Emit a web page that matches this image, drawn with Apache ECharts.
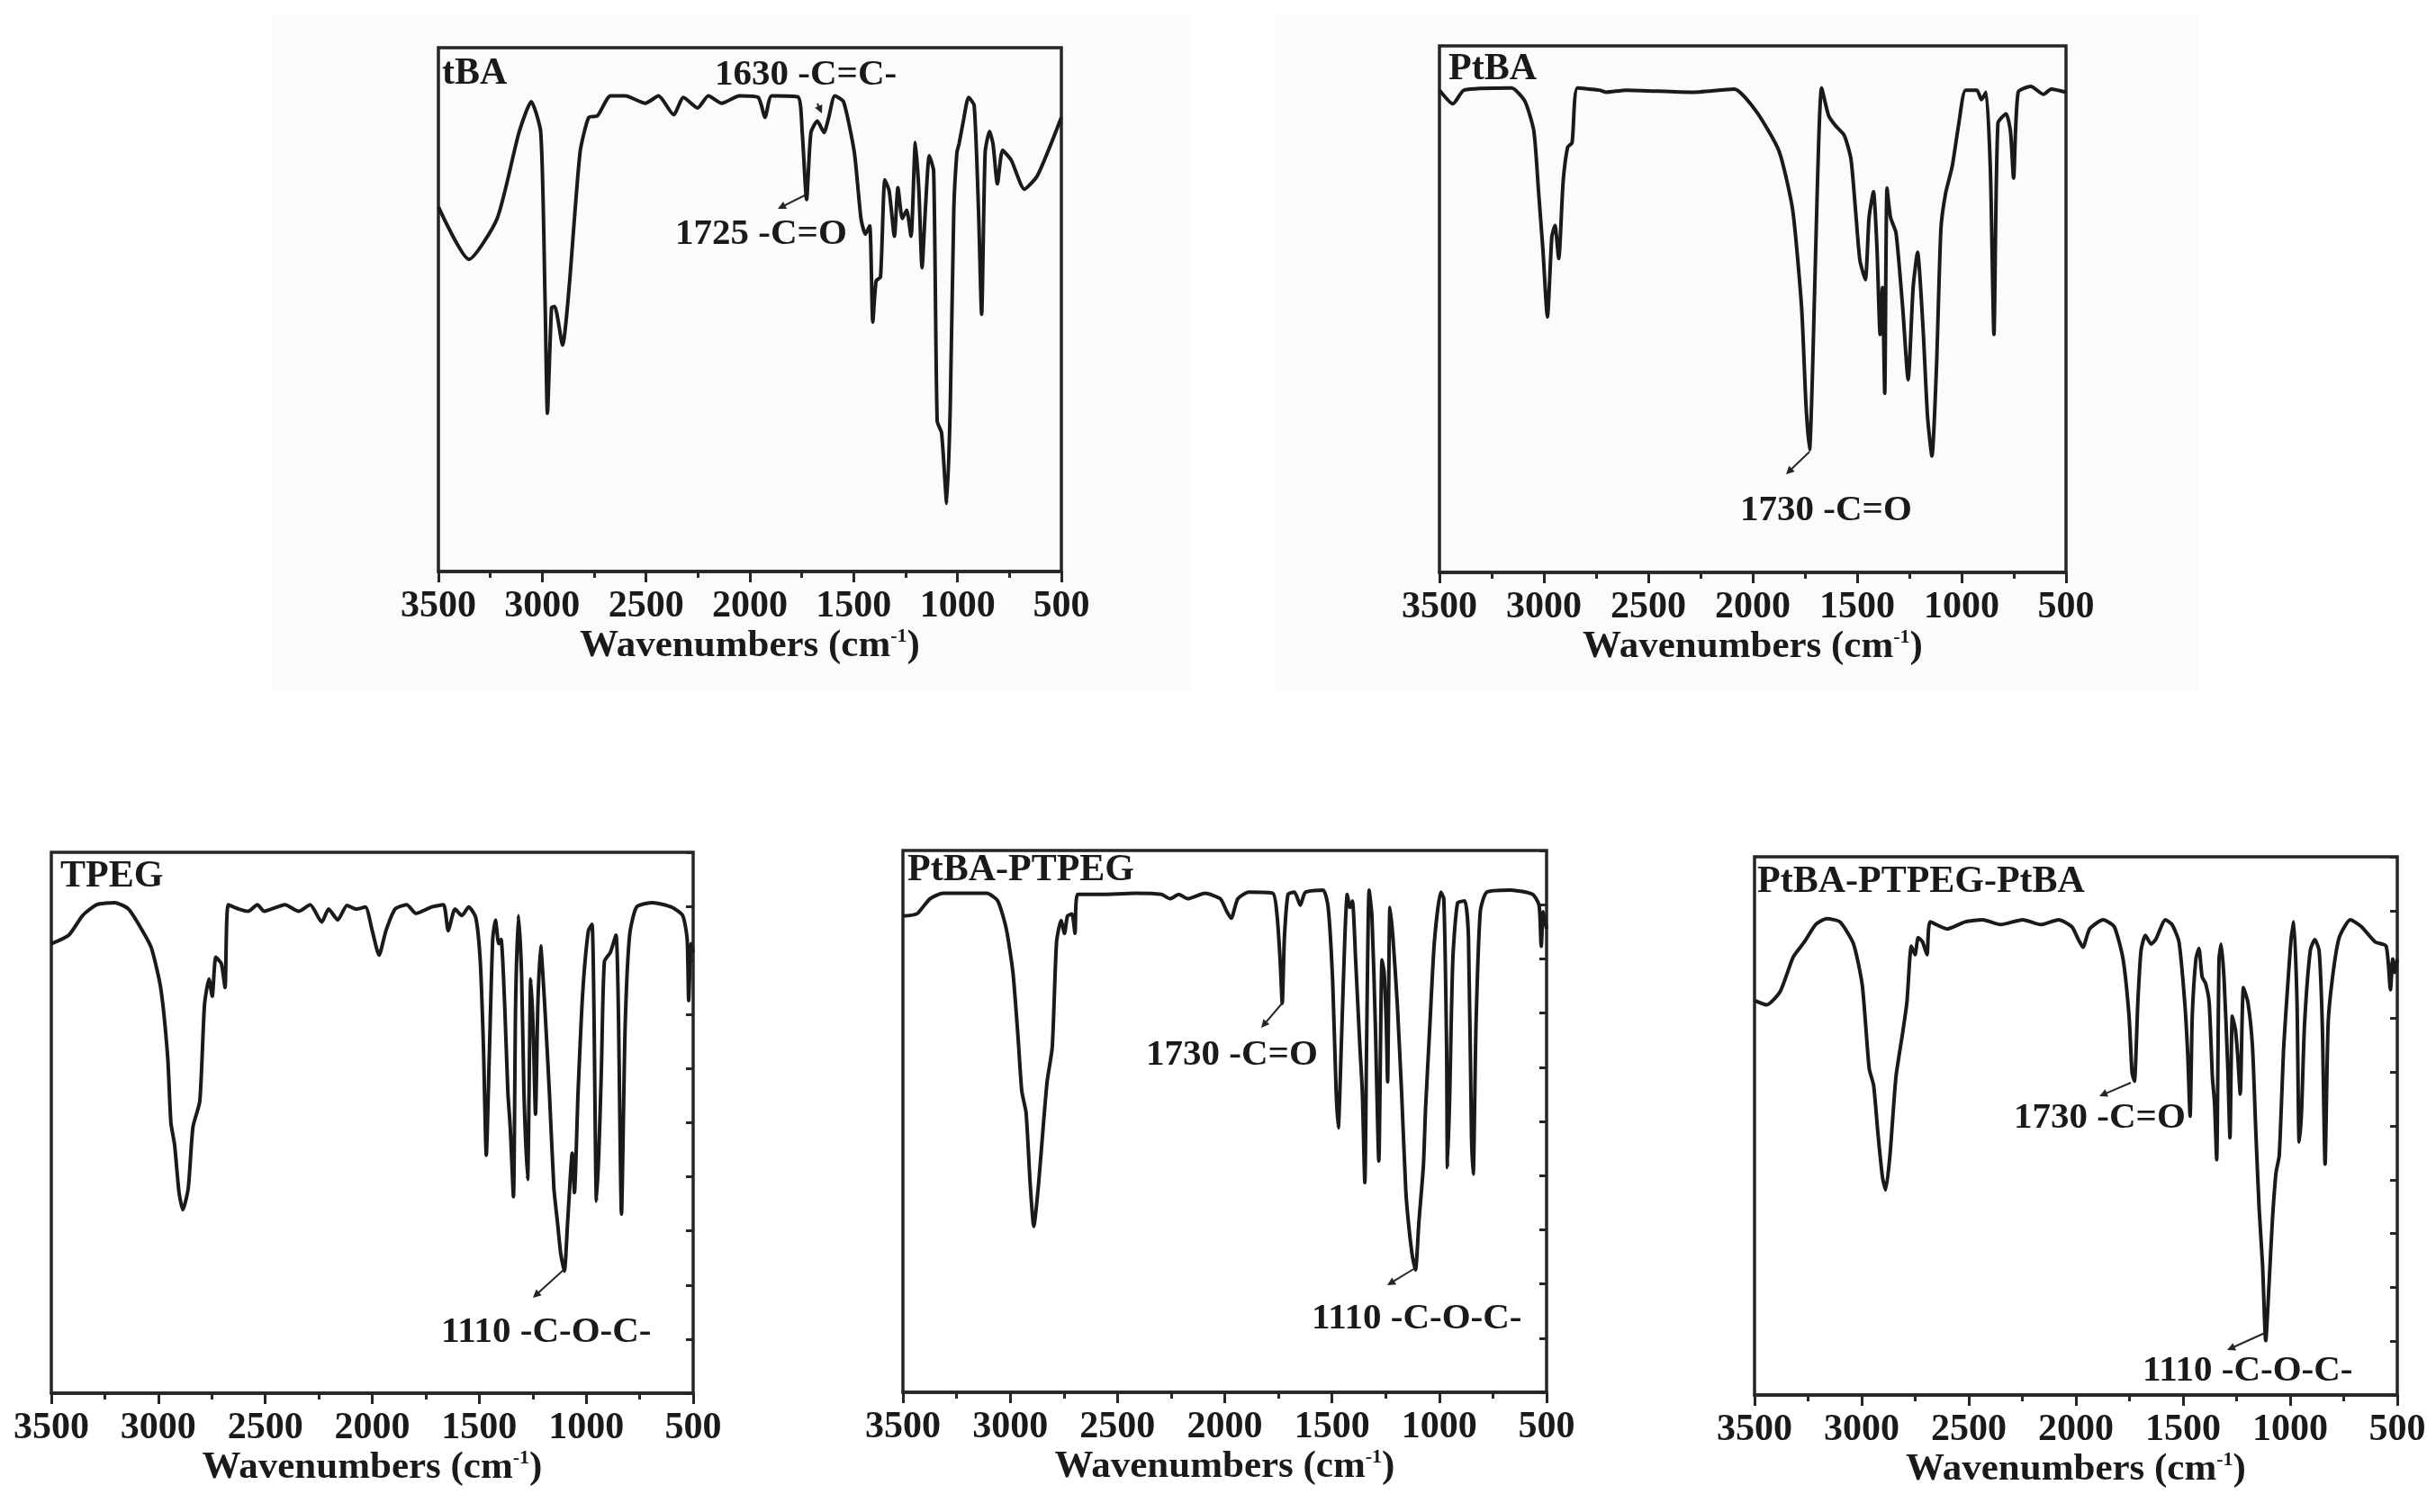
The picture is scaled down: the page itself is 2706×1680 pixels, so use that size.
<!DOCTYPE html>
<html>
<head>
<meta charset="utf-8">
<script src="https://cdn.jsdelivr.net/npm/echarts@6/dist/echarts.min.js"></script>
<style>
  html, body { margin: 0; padding: 0; background: #fff; }
  #main { width: 2706px; height: 1680px; }
</style>
</head>
<body>
<div id="main"></div>
<script>
// FTIR spectra, [wavenumber, transmittance %]
var tBA = [
  [3500, 69.6], [3353, 59.6], [3217, 67.4], [3112, 83.8], [3053, 89.7], [3007, 83.8],
  [2986, 51], [2975, 30.2], [2955, 50.4], [2940, 50.6], [2902, 43.2], [2871, 54],
  [2818, 80], [2776, 86.7], [2734, 87], [2671, 90.8], [2600, 90.8], [2503, 89.4],
  [2440, 90.8], [2367, 87.2], [2320, 90.5], [2252, 88.5], [2200, 90.8], [2136, 89.4],
  [2050, 90.8], [1960, 90.5], [1927, 86.7], [1895, 90.8], [1769, 90.6], [1748, 83.8],
  [1727, 71], [1706, 83.8], [1675, 86], [1643, 83.8], [1622, 86.4], [1591, 90.8],
  [1549, 89.7], [1497, 80], [1465, 67.4], [1444, 64.4], [1423, 66], [1408, 47.6],
  [1392, 55.5], [1371, 56.2], [1350, 74.8], [1329, 72.6], [1304, 64], [1287, 73.3],
  [1266, 67.4], [1245, 69], [1224, 64], [1203, 81.9], [1186, 72.6], [1171, 58],
  [1155, 69], [1136, 79.4], [1115, 76.4], [1098, 28.7], [1077, 26.5], [1052, 13],
  [1035, 31.6], [1018, 69], [1003, 80], [993, 81.6], [972, 86], [947, 90.5], [920, 89],
  [899, 69], [884, 49.1], [867, 80], [846, 84], [829, 81.6], [808, 74], [783, 80.4],
  [741, 78.5], [678, 73], [615, 75.6], [500, 86.7]
];
var PtBA = [
  [3500, 91.6], [3435, 89], [3382, 91.6], [3155, 92], [3091, 89.5], [3048, 83.8],
  [3026, 72.6], [3005, 61.5], [2983, 48.5], [2962, 63.7], [2947, 65.9], [2929, 59.6],
  [2908, 74.1], [2886, 80.8], [2865, 81.6], [2839, 92], [2735, 91.6], [2703, 91.2],
  [2606, 91.6], [2294, 91.2], [2089, 91.8], [1982, 87.5], [1874, 80], [1809, 68.9],
  [1766, 50.3], [1745, 31.8], [1728, 23.3], [1713, 39.2], [1691, 72.6], [1670, 92],
  [1637, 86.8], [1605, 84.9], [1562, 83], [1530, 78.6], [1508, 68.9], [1487, 59.3],
  [1461, 55.6], [1443, 67.4], [1422, 72.3], [1405, 61.5], [1390, 45.2], [1379, 54.1],
  [1368, 34], [1357, 73], [1340, 67.4], [1314, 64.5], [1282, 50.3], [1256, 36.6],
  [1232, 54.1], [1211, 60.8], [1185, 46.7], [1163, 29.6], [1142, 22.1], [1120, 39.2],
  [1099, 65.2], [1077, 71.9], [1045, 77.1], [1013, 85.3], [981, 91.6], [927, 91.6],
  [905, 89.8], [883, 91.2], [862, 76.4], [845, 45.2], [826, 85.3], [787, 87.1],
  [766, 83.8], [751, 74.9], [729, 91.2], [668, 92.3], [608, 90.8], [571, 91.8], [500, 91.2]
];
var TPEG = [
  [3500, 83.1], [3418, 84.7], [3354, 88.3], [3289, 90.3], [3203, 90.7], [3139, 89.5],
  [3074, 85.5], [3032, 82.3], [2989, 75], [2956, 62.1], [2941, 50], [2924, 46],
  [2903, 37.1], [2885, 33.9], [2860, 37.9], [2838, 49.2], [2806, 54], [2784, 71.8],
  [2763, 76.6], [2748, 73.4], [2731, 80.6], [2705, 79.4], [2688, 75], [2673, 90.3],
  [2623, 89.5], [2580, 89.1], [2537, 90.3], [2505, 89.1], [2408, 90.3], [2344, 89.1],
  [2290, 90.3], [2236, 87.1], [2204, 89.5], [2161, 87.5], [2118, 90.2], [2075, 89.5],
  [2032, 89.9], [2000, 85.5], [1968, 81], [1936, 85.5], [1893, 89.5], [1839, 90.3],
  [1796, 88.7], [1721, 89.9], [1667, 90.3], [1645, 85.5], [1613, 89.5], [1581, 88.3],
  [1549, 89.9], [1516, 87.9], [1495, 79.8], [1480, 63.7], [1467, 44], [1452, 63.7],
  [1437, 83.9], [1424, 87.5], [1409, 83.1], [1398, 83.9], [1381, 71.8], [1366, 55.6],
  [1355, 49.2], [1340, 36.3], [1330, 71.8], [1317, 88.3], [1302, 77.4], [1291, 55.6],
  [1274, 39.5], [1259, 76.6], [1248, 67.7], [1237, 51.6], [1226, 71.8], [1213, 82.7],
  [1194, 71.8], [1172, 55.6], [1151, 37.9], [1134, 31.5], [1119, 25.8], [1102, 22.6],
  [1087, 31.5], [1065, 44.4], [1055, 37.1], [1038, 55.6], [1016, 74.2], [990, 85.5],
  [973, 86.7], [964, 71.8], [952, 35.5], [941, 44.4], [929, 59.7], [915, 79.8],
  [887, 81.5], [861, 84.7], [850, 71.8], [835, 33.1], [818, 67.7], [797, 84.7],
  [764, 89.9], [689, 90.7], [603, 89.9], [549, 88.3], [528, 83.9], [521, 72.6],
  [510, 83.1], [500, 81.5]
];
var PtBA_PTPEG = [
  [3500, 87.9], [3435, 88.3], [3374, 91.1], [3313, 92.1], [3109, 92.1], [3058, 90.7],
  [3018, 85.5], [2987, 77.4], [2963, 65.3], [2946, 55.6], [2926, 51.6], [2906, 37.9],
  [2890, 30.6], [2869, 37.9], [2849, 47.6], [2828, 57.3], [2804, 63.7], [2784, 83.1],
  [2763, 87.1], [2747, 84.7], [2733, 87.9], [2712, 88.3], [2698, 84.7], [2686, 91.9],
  [2580, 91.9], [2417, 92.1], [2295, 91.9], [2255, 91.1], [2214, 91.9], [2173, 91.1],
  [2092, 92.1], [2021, 91.1], [1990, 88.7], [1970, 87.5], [1939, 91.1], [1888, 92.3],
  [1776, 92.1], [1756, 87.9], [1742, 79.8], [1732, 71.8], [1722, 83.9], [1705, 91.9],
  [1675, 92.3], [1648, 89.9], [1624, 92.3], [1542, 92.7], [1518, 89.5], [1497, 75.8],
  [1481, 55.6], [1471, 48.8], [1457, 63.7], [1441, 83.1], [1429, 91.9], [1417, 89.5],
  [1405, 90.7], [1390, 79.8], [1370, 63.7], [1359, 55.6], [1347, 38.7], [1339, 63.7],
  [1327, 92.7], [1314, 87.9], [1298, 67.7], [1282, 42.7], [1267, 79.8], [1257, 77.4],
  [1247, 67.7], [1241, 57.3], [1230, 89.5], [1216, 83.9], [1196, 71.8], [1176, 55.6],
  [1156, 37.1], [1142, 30.6], [1125, 25], [1111, 22.6], [1095, 31.5], [1074, 41.9],
  [1064, 52.4], [1044, 67.7], [1023, 83.1], [993, 92.3], [979, 91.1], [966, 63.7],
  [962, 41.5], [952, 54], [937, 79.8], [915, 90.3], [881, 90.7], [864, 83.9],
  [850, 47.6], [842, 40.3], [829, 67.7], [809, 88.7], [779, 92.3], [667, 92.7],
  [565, 91.9], [535, 89.9], [525, 82.3], [515, 88.7], [500, 85.5]
];
var PtBA_PTPEG_PtBA = [
  [3500, 73.3], [3444, 72.5], [3381, 74.9], [3319, 81.4], [3267, 84.2], [3215, 87.4],
  [3163, 88.5], [3101, 87.9], [3038, 83.8], [2997, 76.1], [2965, 60.7], [2944, 57.5],
  [2924, 48.6], [2903, 40.5], [2888, 38.1], [2868, 44.5], [2840, 59.1], [2809, 67.2],
  [2789, 72.9], [2768, 83.4], [2751, 81.8], [2736, 85], [2716, 84.2], [2695, 81.8],
  [2680, 87.9], [2601, 86.6], [2518, 87.9], [2435, 88.3], [2352, 87.4], [2248, 88.3],
  [2164, 87.4], [2081, 88.3], [2019, 87], [1988, 84.6], [1967, 83.2], [1936, 86.6],
  [1873, 88.3], [1821, 87], [1780, 81], [1752, 70.4], [1738, 59.9], [1727, 58.3],
  [1711, 72.9], [1696, 82.6], [1676, 85.4], [1649, 83.8], [1628, 84.6], [1582, 88.3],
  [1551, 87.4], [1519, 84.2], [1492, 72.9], [1478, 63.2], [1467, 51.8], [1457, 70.4],
  [1440, 81], [1426, 83], [1411, 77.7], [1395, 76.5], [1378, 72.9], [1363, 59.1],
  [1353, 54.3], [1343, 43.7], [1332, 81], [1322, 83.8], [1308, 76.9], [1291, 60.7],
  [1281, 47.8], [1270, 70.4], [1256, 68], [1245, 63.2], [1233, 55.9], [1218, 75.7],
  [1197, 72.9], [1176, 64.8], [1160, 48.6], [1145, 34.8], [1129, 24.3], [1114, 10.1],
  [1099, 20.2], [1083, 32.4], [1066, 41.3], [1051, 44.5], [1030, 64.8], [1010, 76.9],
  [995, 85], [983, 87.9], [968, 72.9], [958, 47], [947, 52.6], [933, 68.8], [906, 82.6],
  [885, 84.6], [865, 82.6], [850, 68.8], [837, 42.9], [823, 68.8], [802, 77.7],
  [771, 85], [719, 88.3], [667, 87], [604, 84.2], [552, 83.4], [532, 75.3], [521, 81],
  [511, 78.5], [500, 81]
];

var sampleNames = ['tBA', 'PtBA', 'TPEG', 'PtBA-PTPEG', 'PtBA-PTPEG-PtBA'];
var spectra = [tBA, PtBA, TPEG, PtBA_PTPEG, PtBA_PTPEG_PtBA];
var xTicks = [3500, 3000, 2500, 2000, 1500, 1000, 500];

// layout of each panel (pixels)
var boxes = [
  {left: 487, top: 53, width: 692, height: 582, label: [491, 83], rightTicks: false},
  {left: 1599, top: 51, width: 696, height: 585, label: [1609, 78], rightTicks: false},
  {left: 57, top: 947, width: 713, height: 601, label: [67, 975], rightTicks: true},
  {left: 1003, top: 945, width: 715, height: 602, label: [1008, 968], rightTicks: true},
  {left: 1949, top: 952, width: 714, height: 598, label: [1952, 981], rightTicks: true}
];
// peak notes: text left/middle, arrow from -> to (head at "to")
var notes = [
  {t: '1630 -C=C-', x: 794, y: 83, a: [908, 115, 913, 126]},
  {t: '1725 -C=O', x: 750, y: 260, a: [898, 215, 864, 232]},
  {t: '1730 -C=O', x: 1933, y: 567, a: [2010, 502, 1984, 527]},
  {t: '1110 -C-O-C-', x: 490, y: 1480, a: [626, 1411, 592, 1442]},
  {t: '1730 -C=O', x: 1273, y: 1172, a: [1424, 1115, 1401, 1142]},
  {t: '1110 -C-O-C-', x: 1457, y: 1465, a: [1572, 1409, 1541, 1428]},
  {t: '1730 -C=O', x: 2237, y: 1242, a: [2367, 1203, 2332, 1218]},
  {t: '1110 -C-O-C-', x: 2380, y: 1523, a: [2516, 1481, 2474, 1500]}
];

var FONT = '"Liberation Serif", "Times New Roman", serif';
var INK = '#1a1a1a';

var grids = [], xAxes = [], yAxes = [], series = [], graphics = [];

// faint scan background behind the top panels
graphics.push({type: 'rect', shape: {x: 302, y: 16, width: 1021, height: 752}, style: {fill: '#fbfbfb'}, silent: true, z: -10});
graphics.push({type: 'rect', shape: {x: 1417, y: 16, width: 1025, height: 752}, style: {fill: '#fbfbfb'}, silent: true, z: -10});

boxes.forEach(function (b, i) {
  grids.push({
    left: b.left, top: b.top, width: b.width, height: b.height,
    show: true, borderColor: '#262626', borderWidth: 3.5, backgroundColor: 'transparent'
  });
  xAxes.push({
    gridIndex: i,
    type: 'value',
    min: 500, max: 3500, interval: 500,
    inverse: true,
    axisLine: {show: true, lineStyle: {color: '#262626', width: 3.5}},
    axisTick: {show: true, inside: false, length: 12, lineStyle: {color: '#262626', width: 3}},
    minorTick: {show: true, splitNumber: 2, length: 7, lineStyle: {color: '#262626', width: 3}},
    splitLine: {show: false},
    axisLabel: {
      margin: 18, color: INK, fontFamily: FONT, fontWeight: 'bold', fontSize: 42,
      formatter: function (v) { return xTicks.indexOf(v) >= 0 ? String(v) : ''; }
    },
    name: 'Wavenumbers (cm{sup|-1})',
    nameLocation: 'middle',
    nameGap: i < 2 ? 51 : 55,
    nameTextStyle: {
      color: INK, fontFamily: FONT, fontWeight: 'bold', fontSize: 43,
      rich: {sup: {fontFamily: FONT, fontWeight: 'bold', fontSize: 22, color: INK, verticalAlign: 'top', padding: [0, 0, 18, 0]}}
    }
  });
  yAxes.push({
    gridIndex: i,
    type: 'value',
    min: 0, max: 100, interval: 10,
    position: 'right',
    axisLine: {show: false},
    axisTick: {show: b.rightTicks, inside: true, length: 8, lineStyle: {color: '#262626', width: 3}},
    axisLabel: {show: false},
    splitLine: {show: false}
  });
  series.push({
    type: 'line',
    name: sampleNames[i],
    xAxisIndex: i, yAxisIndex: i,
    data: spectra[i],
    showSymbol: false,
    smooth: 0.2,
    lineStyle: {color: '#1a1a1a', width: 4},
    animation: false
  });
  graphics.push({
    type: 'text', left: b.label[0], top: b.label[1] - 22,
    style: {text: sampleNames[i], fill: INK, font: 'bold 42px ' + FONT}
  });
});

notes.forEach(function (n) {
  graphics.push({
    type: 'text', x: n.x, y: n.y,
    style: {text: n.t, fill: INK, font: 'bold 41px ' + FONT, verticalAlign: 'middle', align: 'left'}
  });
  var x1 = n.a[0], y1 = n.a[1], x2 = n.a[2], y2 = n.a[3];
  var dx = x2 - x1, dy = y2 - y1, len = Math.sqrt(dx * dx + dy * dy);
  var ux = dx / len, uy = dy / len, hl = 9, hw = 4.5;
  graphics.push({
    type: 'line', shape: {x1: x1, y1: y1, x2: x2 - ux * hl * 0.6, y2: y2 - uy * hl * 0.6},
    style: {stroke: '#262626', lineWidth: 2}
  });
  graphics.push({
    type: 'polygon',
    shape: {points: [
      [x2, y2],
      [x2 - ux * hl - uy * hw, y2 - uy * hl + ux * hw],
      [x2 - ux * hl + uy * hw, y2 - uy * hl - ux * hw]
    ]},
    style: {fill: '#262626'}
  });
});

var chart = echarts.init(document.getElementById('main'));
chart.setOption({
  backgroundColor: '#ffffff',
  animation: false,
  grid: grids,
  xAxis: xAxes,
  yAxis: yAxes,
  series: series,
  graphic: graphics
});
</script>
</body>
</html>
